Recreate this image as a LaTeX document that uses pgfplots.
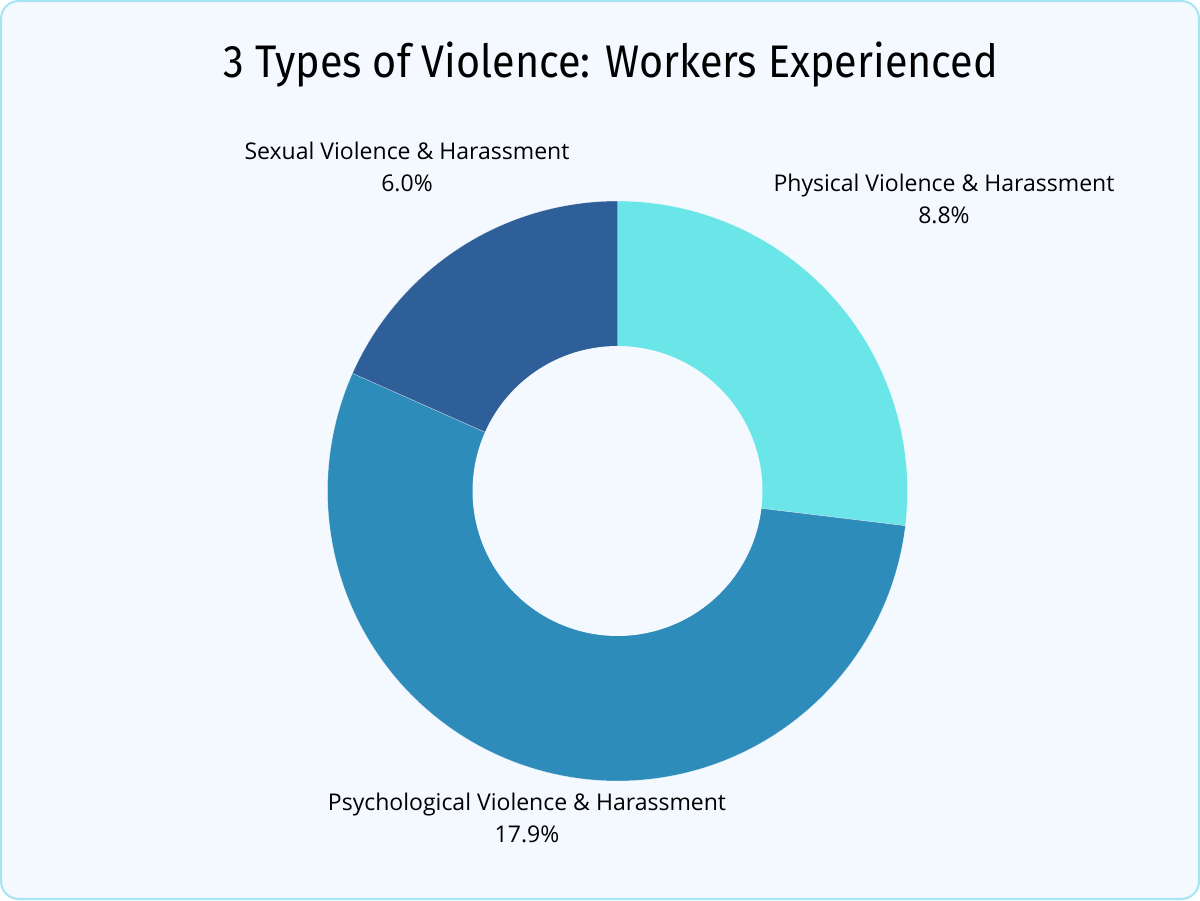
\documentclass[border=0pt]{standalone}
\usepackage{pgfplots}
\pgfplotsset{compat=1.18}
\usepackage{pgfplotstable}
\usepackage{fontspec}
\setmainfont{Open Sans}
\newfontfamily\titlefont[FakeStretch=0.905]{Fira Sans}

\definecolor{bgfill}{HTML}{F4F9FF}
\definecolor{bgedge}{HTML}{A6E6F4}
\definecolor{cPhys}{HTML}{6AE5E8}
\definecolor{cPsy}{HTML}{2E8CBA}
\definecolor{cSex}{HTML}{2E5F98}

% share of workers per type of violence
\pgfplotstableread{
type value
Physical 8.8
Psychological 17.9
Sexual 6.0
}\violence

\begin{document}
\begin{tikzpicture}
\pgfplotstablegetelem{0}{value}\of\violence \let\va\pgfplotsretval
\pgfplotstablegetelem{1}{value}\of\violence \let\vb\pgfplotsretval
\pgfplotstablegetelem{2}{value}\of\violence \let\vc\pgfplotsretval
\pgfmathsetmacro\tot{\va+\vb+\vc}
\pgfmathsetmacro\aA{90}
\pgfmathsetmacro\aB{\aA-360*\va/\tot}
\pgfmathsetmacro\aC{\aB-360*\vb/\tot}
\pgfmathsetmacro\aD{\aC-360*\vc/\tot}
\def\cx{617.5}\def\cy{409}\def\R{290}\def\r{145}
\begin{axis}[
    width=24cm, height=18cm, scale only axis,
    xmin=0, xmax=1200, ymin=0, ymax=900,
    hide axis, clip=false,
]
% card background
\fill[bgfill, draw=bgedge, line width=1.2pt, rounded corners=10pt]
    (axis cs:1,1) rectangle (axis cs:1199,899);

% slices (clockwise from 12 o'clock)
\addplot[fill=cPhys, draw=white, draw opacity=0.5, line width=0.25pt, domain=\aB:\aA, samples=120, variable=\t]
    ({\cx+\R*cos(t)}, {\cy+\R*sin(t)}) -- (axis cs:\cx,\cy) -- cycle;
\addplot[fill=cPsy, draw=white, draw opacity=0.5, line width=0.25pt, domain=\aC:\aB, samples=200, variable=\t]
    ({\cx+\R*cos(t)}, {\cy+\R*sin(t)}) -- (axis cs:\cx,\cy) -- cycle;
\addplot[fill=cSex, draw=white, draw opacity=0.5, line width=0.25pt, domain=\aD:\aC, samples=80, variable=\t]
    ({\cx+\R*cos(t)}, {\cy+\R*sin(t)}) -- (axis cs:\cx,\cy) -- cycle;
% hole
\addplot[fill=bgfill, draw=none, domain=0:360, samples=200, variable=\t]
    ({\cx+\r*cos(t)}, {\cy+\r*sin(t)}) -- cycle;

% title
\node[anchor=base, font=\titlefont\fontsize{26}{30}\selectfont]
    at (axis cs:611,823) {3 Types of Violence: Workers Experienced};

% labels
\node[align=center, font=\fontsize{13.1}{18}\selectfont]
    at (axis cs:944,701) {Physical Violence \& Harassment\\8.8\%};
\node[align=center, font=\fontsize{13.1}{18}\selectfont]
    at (axis cs:407,733) {Sexual Violence \& Harassment\\6.0\%};
\node[align=center, font=\fontsize{13.1}{18}\selectfont]
    at (axis cs:527,82) {Psychological Violence \& Harassment\\17.9\%};
\end{axis}
\end{tikzpicture}
\end{document}
